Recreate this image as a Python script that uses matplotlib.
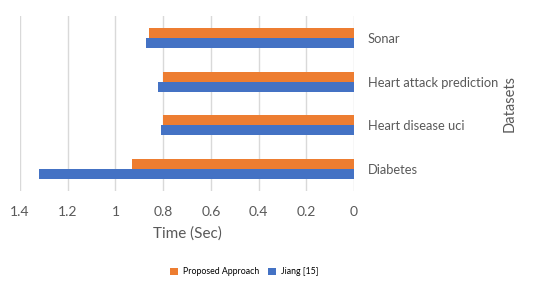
import numpy as np
import matplotlib.pyplot as plt

plt.rcParams['font.family'] = ['Lato', 'DejaVu Sans']

datasets = ["Diabetes", "Heart disease uci", "Heart attack prediction", "Sonar"]
proposed = [0.93, 0.80, 0.80, 0.86]
jiang = [1.32, 0.81, 0.82, 0.87]
xticks = [1.4, 1.2, 1, 0.8, 0.6, 0.4, 0.2, 0]

ORANGE = "#ED7D31"
BLUE = "#4472C4"
GRID = "#D9D9D9"
TXT = "#595959"

fig = plt.figure(figsize=(5.5, 2.85), dpi=100)
ax = fig.add_axes([20 / 550, 1 - 191 / 285, 334 / 550, 175 / 285])

y = np.arange(len(datasets))
h = 0.23
ax.barh(y + h / 2, proposed, height=h, color=ORANGE, label="Proposed Approach", zorder=3)
ax.barh(y - h / 2, jiang, height=h, color=BLUE, label="Jiang [15]", zorder=3)

ax.set_xlim(1.4, 0)
ax.set_ylim(-0.5, 3.5)
ax.set_xticks(xticks)
ax.set_xticklabels([f"{t:g}" for t in xticks], fontsize=10, color=TXT)
ax.grid(axis="x", color=GRID, linewidth=1, zorder=0)
ax.tick_params(axis="x", length=0, pad=11)

ax.yaxis.tick_right()
ax.set_yticks(y)
ax.set_yticklabels(datasets, fontsize=9.3, color=TXT)
ax.tick_params(axis="y", length=0, pad=10)

for s in ["top", "bottom", "left", "right"]:
    ax.spines[s].set_visible(False)

ax.set_xlabel("Time (Sec)", fontsize=11, color=TXT, labelpad=6)
fig.text(510 / 550, 1 - 103 / 285, "Datasets", rotation=90, fontsize=10.5,
         color=TXT, ha="center", va="center")

fig.legend(loc="center", bbox_to_anchor=(244 / 550, 1 - 272 / 285), ncol=2,
           frameon=False, fontsize=6.3, handlelength=0.9, handleheight=0.9,
           columnspacing=1.0, handletextpad=0.6)

fig.savefig("out.png", dpi=100)
